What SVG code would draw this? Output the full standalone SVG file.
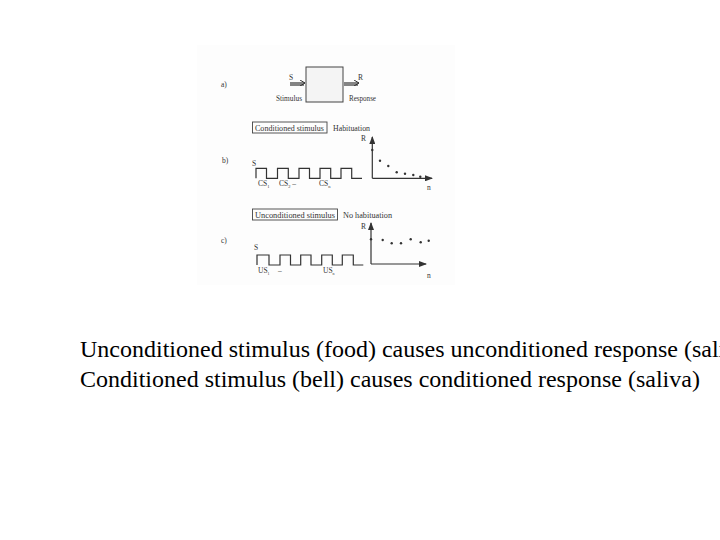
<svg xmlns="http://www.w3.org/2000/svg" width="720" height="540" viewBox="0 0 720 540">
<style>
.s{font-family:"Liberation Serif","Times New Roman",serif;fill:#333;font-size:7.5px}
.l{fill:none;stroke:#333;stroke-width:1.2}
.d{fill:#333}
.big{font-family:"Liberation Serif","Times New Roman",serif;fill:#000;font-size:24px}
</style>
<defs>
<marker id="ah" markerWidth="8" markerHeight="6" refX="7" refY="3" orient="auto" markerUnits="userSpaceOnUse">
<path d="M0,0 L8,3 L0,6 Z" fill="#333"/>
</marker>
<marker id="oh" markerWidth="6" markerHeight="6" refX="5" refY="3" orient="auto" markerUnits="userSpaceOnUse">
<path d="M0,0 L5,3 L0,6" fill="none" stroke="#333" stroke-width="1"/>
</marker>
</defs>
<rect x="197" y="45" width="258" height="240" fill="#fdfdfd"/>

<g id="panel-a">
<text class="s" x="221" y="87" font-size="9">a)</text>
<rect id="box" x="306" y="67" width="37" height="35" fill="#f4f4f4" stroke="#444" stroke-width="1"/>
<text class="s" x="289" y="80">S</text>
<text class="s" x="358" y="80">R</text>
<text class="s" x="276" y="101" textLength="26" lengthAdjust="spacingAndGlyphs">Stimulus</text>
<text class="s" x="349" y="101" textLength="27" lengthAdjust="spacingAndGlyphs">Response</text>
</g>

<g id="panel-b">
<text class="s" x="222" y="163" font-size="9">b)</text>
<rect x="252.5" y="122" width="74.5" height="11" fill="none" stroke="#444" stroke-width="0.9"/>
<text class="s" x="255" y="130.5" textLength="69" lengthAdjust="spacingAndGlyphs">Conditioned  stimulus</text>
<text class="s" x="333" y="130.5" textLength="37" lengthAdjust="spacingAndGlyphs">Habituation</text>
<text class="s" x="252" y="166">S</text>
<text class="s" x="361" y="141">R</text>
<text class="s" x="427" y="190">n</text>
<text class="s" x="258" y="186" font-size="6.5">CS<tspan font-size="4.5" dy="1.5">1</tspan></text>
<text class="s" x="279" y="186" font-size="6.5">CS<tspan font-size="4.5" dy="1.5">2</tspan><tspan dy="-1.5"> –</tspan></text>
<text class="s" x="319" y="186" font-size="6.5">CS<tspan font-size="4.5" dy="1.5">n</tspan></text>
<g class="d">
<circle cx="372.3" cy="150" r="1.2"/>
<circle cx="380" cy="160.7" r="1.2"/>
<circle cx="388.3" cy="166" r="1.2"/>
<circle cx="396.7" cy="172.3" r="1.2"/>
<circle cx="405" cy="173.7" r="1.2"/>
<circle cx="413.3" cy="175" r="1.2"/>
<circle cx="420.3" cy="176.7" r="1.2"/>
</g>
</g>

<g id="panel-c">
<text class="s" x="221" y="243" font-size="9">c)</text>
<rect x="252.5" y="209" width="85" height="11" fill="none" stroke="#444" stroke-width="0.9"/>
<text class="s" x="255" y="217.5" textLength="80" lengthAdjust="spacingAndGlyphs">Unconditioned  stimulus</text>
<text class="s" x="343" y="217.5" textLength="49" lengthAdjust="spacingAndGlyphs">No habituation</text>
<text class="s" x="254" y="250">S</text>
<text class="s" x="361" y="229">R</text>
<text class="s" x="427" y="278">n</text>
<text class="s" x="258" y="273" font-size="5.5">US<tspan font-size="4" dy="1.5">1</tspan></text>
<text class="s" x="278" y="273" font-size="6">–</text>
<text class="s" x="323" y="273" font-size="5.5">US<tspan font-size="4" dy="1.5">n</tspan></text>
<g class="d">
<circle cx="371" cy="239.3" r="1.2"/>
<circle cx="382.7" cy="240" r="1.2"/>
<circle cx="391.7" cy="243.3" r="1.2"/>
<circle cx="401" cy="243.3" r="1.2"/>
<circle cx="410.7" cy="239.3" r="1.2"/>
<circle cx="420.7" cy="242.3" r="1.2"/>
<circle cx="428.7" cy="240.7" r="1.2"/>
</g>
</g>

<g id="connectors">
<line class="l" x1="290" y1="83" x2="305" y2="83" stroke-width="0.8" marker-end="url(#oh)"/>
<line class="l" x1="290" y1="85" x2="304" y2="85" stroke-width="0.8"/>
<line class="l" x1="344" y1="83" x2="359" y2="83" stroke-width="0.8" marker-end="url(#oh)"/>
<line class="l" x1="344" y1="85" x2="358" y2="85" stroke-width="0.8"/>
<path class="l" d="M256,178.3 V168.3 H266.5 V178.3 H277.5 V168.3 H288.3 V178.3 H299 V168.3 H309.5 V178.3 H320 V168.3 H330.7 V178.3 H341 V168.3 H351.7 V178.3 H362"/>
<line class="l" x1="372.3" y1="178.3" x2="372.3" y2="137" marker-end="url(#ah)"/>
<line class="l" x1="372.3" y1="178.3" x2="432" y2="178.3" marker-end="url(#ah)"/>
<path class="l" d="M257,265 V255 H269 V265 H280 V255 H290.5 V265 H300.7 V255 H311 V265 H321.7 V255 H332.3 V265 H342.3 V255 H353.3 V265 H363.3"/>
<line class="l" x1="371" y1="264" x2="371" y2="223" marker-end="url(#ah)"/>
<line class="l" x1="371" y1="264" x2="426" y2="264" marker-end="url(#ah)"/>
</g>

<g id="caption">
<text class="big" x="80" y="357">Unconditioned stimulus (food) causes unconditioned response (saliva)</text>
<text class="big" x="80" y="387">Conditioned stimulus (bell) causes conditioned response (saliva)</text>
</g>
</svg>
